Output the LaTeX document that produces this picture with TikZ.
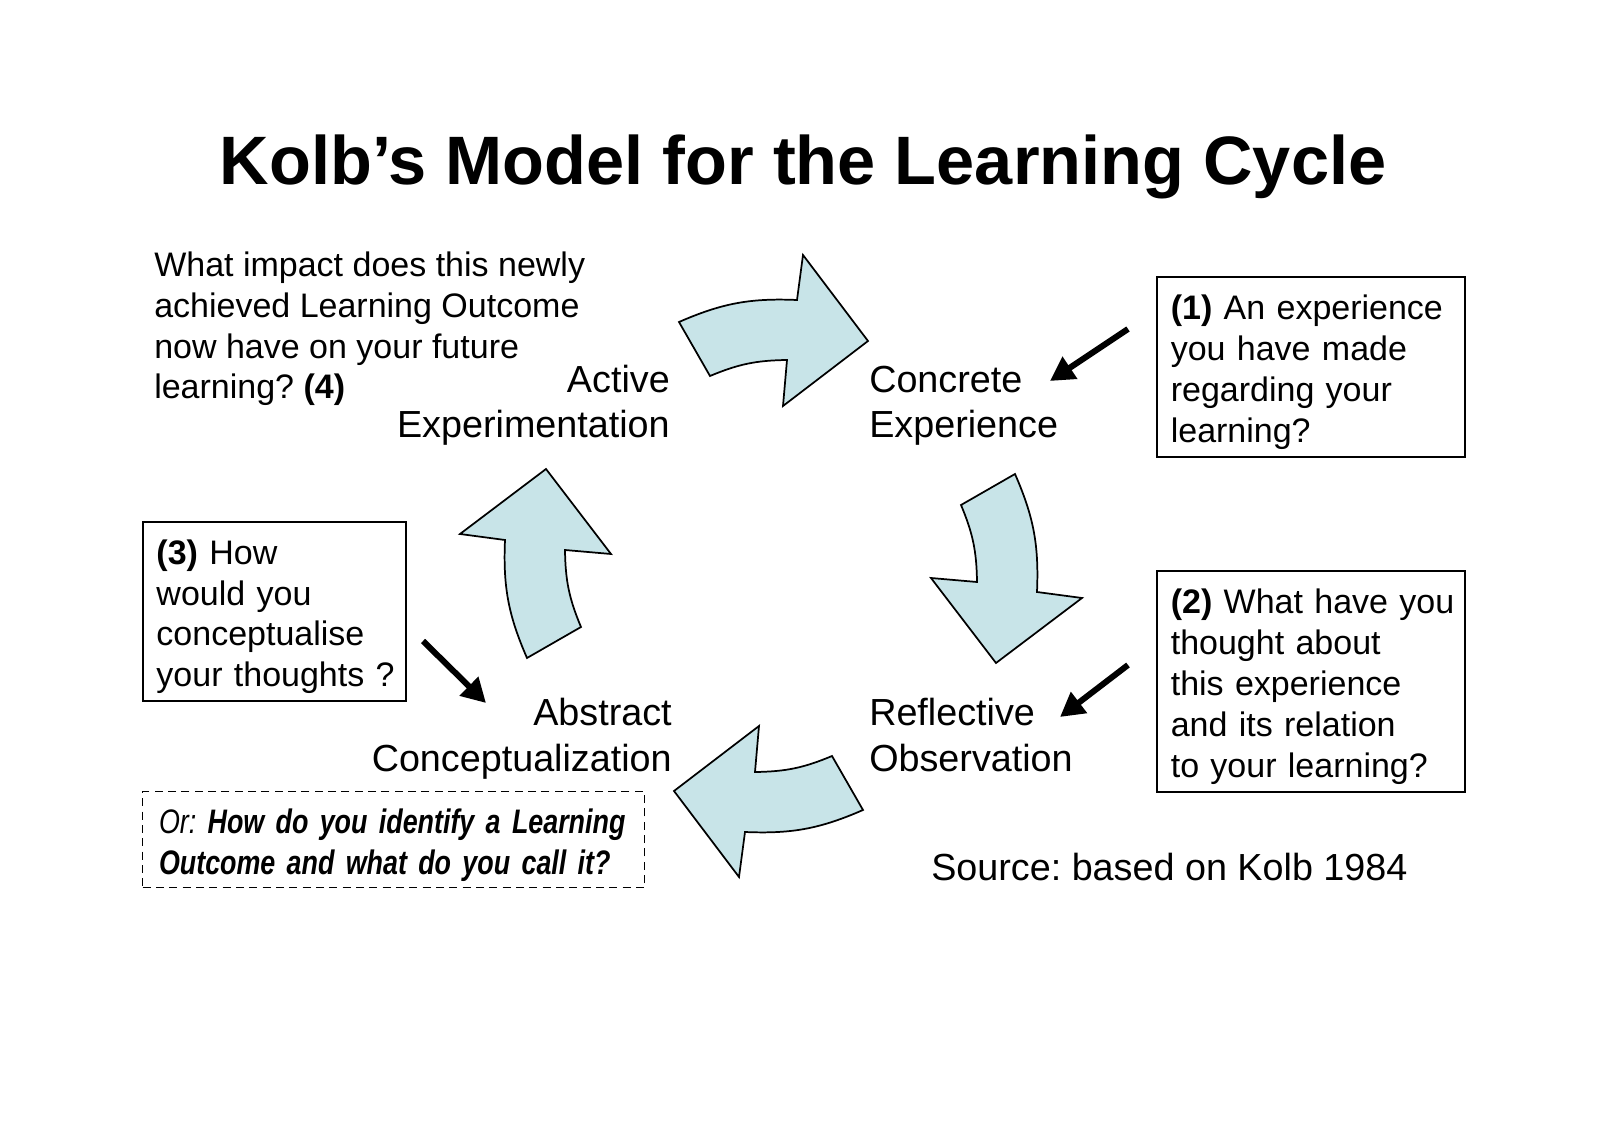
\documentclass[tikz,border=0pt]{standalone}
\usepackage{fontspec}
\setmainfont{Liberation Sans}
\newfontfamily\narrowfont[FakeStretch=0.79, WordSpace=0.6]{Liberation Sans}
\usetikzlibrary{arrows.meta}
\frenchspacing
\definecolor{cyclefill}{RGB}{200,228,232}
\newcommand{\bodysize}{\fontsize{25.5pt}{30.7pt}\selectfont}
\newcommand{\stagesize}{\fontsize{28.3pt}{33.8pt}\selectfont}
\newcommand{\titlesize}{\fontsize{51.4pt}{60pt}\selectfont}
%lines of a question, never wrapped, set a little low in the box
\newcommand{\qlines}[1]{\raisebox{-4.5pt}[\height][\depth]{\begin{tabular}{@{}l@{}}#1\end{tabular}}}

\begin{document}
\begin{tikzpicture}[x=0.75pt, y=-0.75pt,
every node/.style={inner sep=0pt},
stage/.style={font=\stagesize},
qbox/.style={draw, line width=1.2pt, align=left, font=\bodysize, inner xsep=10.5pt, anchor=north west},
cyclearrow/.style={draw, line width=1.3pt, fill=cyclefill, line join=miter},
pointer/.style={line width=4.5pt, -{Triangle[length=18pt,width=19pt]}}]
\useasboundingbox (0,0) rectangle (1600,1130);

\node[font=\titlesize\bfseries, anchor=base] (title) at (803,185) {Kolb’s Model for the Learning Cycle};

%four block arrows of the cycle, each a quarter turn on from the last
\foreach \k in {0,1,2,3}{
\begin{scope}[shift={(771,566)}, rotate=-90*\k]
	\draw[cyclearrow] (-92,-244) to[bend left=13] (26,-266) -- (32,-311) -- (97,-225) -- (12,-160) -- (16,-206) to[bend right=11] (-61,-190) -- cycle;
\end{scope}
}

%the four stages (base is the last line)
\node[stage, anchor=base east, align=right] (ae) at (670,438) {Active\\Experimentation};
\node[stage, anchor=base west, align=left] (ce) at (869,438) {Concrete\\Experience};
\node[stage, anchor=base east, align=right] (ac) at (672,771) {Abstract\\Conceptualization};
\node[stage, anchor=base west, align=left] (ro) at (869,771) {Reflective\\Observation};

%questions
\node[anchor=base west, align=left, font=\bodysize] (q4) at (154,399) {What impact does this newly\\achieved Learning Outcome\\now have on your future\\learning? \textbf{(4)}};
\node[qbox, minimum width=231pt, minimum height=135pt, text width=210pt] (q1) at (1156,276) {\qlines{\textbf{(1)} An experience\\you have made\\regarding your\\learning?}};
\node[qbox, minimum width=231pt, minimum height=166pt, text width=210pt] (q2) at (1156,570) {\qlines{\textbf{(2)} What have you\\thought about\\this experience\\and its relation\\to your learning?}};
\node[qbox, minimum width=197.5pt, minimum height=134.25pt, text width=177pt, inner xsep=10pt] (q3) at (142,521) {\qlines{\textbf{(3)} How\\would you\\conceptualise\\your thoughts ?}};
\node[qbox, dash pattern=on 6pt off 4pt, line width=1pt, minimum width=376.5pt, minimum height=72pt, text width=352pt, inner xsep=12pt, font=\narrowfont\bodysize] (or) at (142,791) {\qlines{\textit{Or:} \textbf{\textit{How do you identify a Learning}}\\\textbf{\textit{Outcome and what do you call it?}}}};

\node[stage, anchor=base west] (src) at (931,880) {Source: based on Kolb 1984};

%pointers from the questions to the stages
\coordinate (p1) at (1128,329);
\coordinate (t1) at (1050,381);
\coordinate (p2) at (1128,665);
\coordinate (t2) at (1060,717);
\coordinate (p3) at (423,641);
\coordinate (t3) at (486,703);
\foreach \n in {1,2,3}
	\draw[pointer] (p\n) -- (t\n);
\end{tikzpicture}
\end{document}
